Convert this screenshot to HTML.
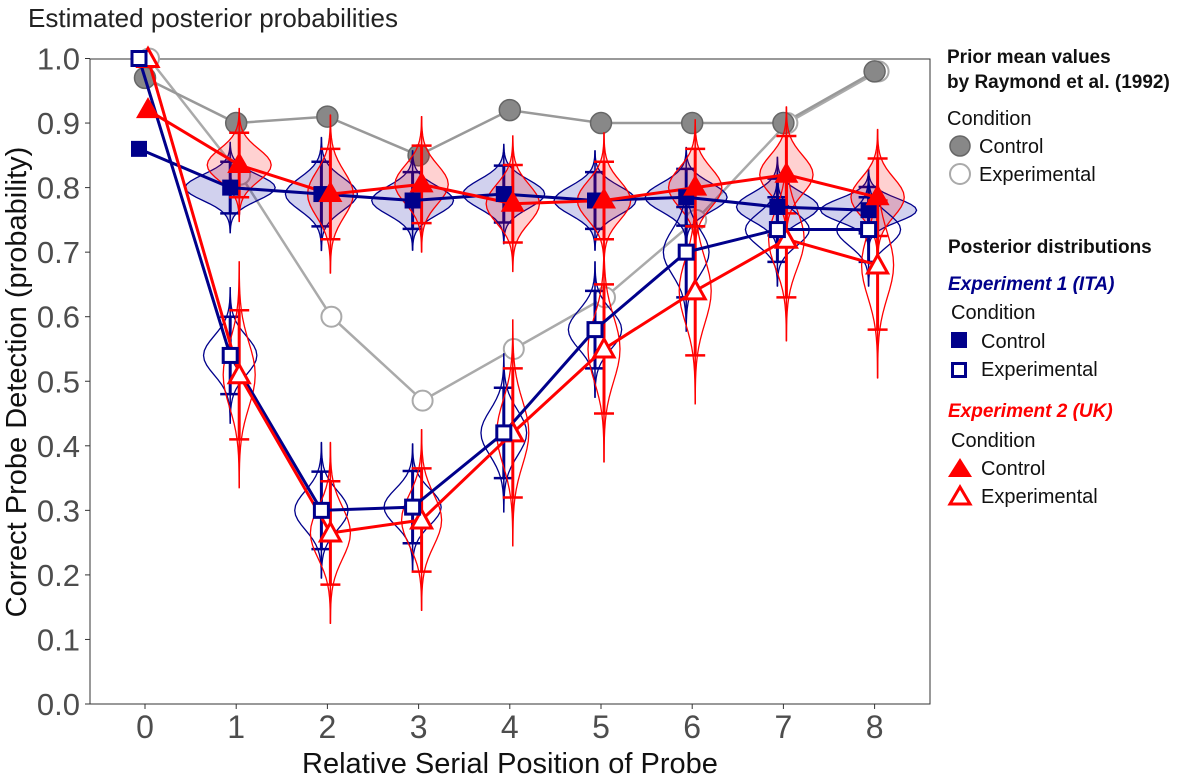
<!DOCTYPE html>
<html><head><meta charset="utf-8"><style>
body{margin:0;background:#fff;}
svg{display:block;font-family:"Liberation Sans",sans-serif;}
</style></head><body>
<svg id="c" width="1200" height="776" xmlns="http://www.w3.org/2000/svg">
<text x="28" y="27" font-size="26" fill="#222">Estimated posterior probabilities</text>
<rect x="90" y="59" width="840" height="645" fill="none" stroke="#333" stroke-width="1"/>
<g id="axes"></g>
<g id="gray"></g>
<g id="violins"></g>
<g id="series"></g>
<text transform="translate(26,382) rotate(-90)" text-anchor="middle" font-size="29" fill="#111">Correct Probe Detection (probability)</text>
<text x="510" y="773" text-anchor="middle" font-size="29" fill="#111">Relative Serial Position of Probe</text>
<g font-size="20" fill="#111">
<text x="947" y="63" font-weight="bold" font-size="19">Prior mean values</text>
<text x="947" y="88" font-weight="bold" font-size="19">by Raymond et al. (1992)</text>
<text x="947" y="125">Condition</text>
<circle cx="960" cy="146" r="10" fill="#888" stroke="#666" stroke-width="1.5"/>
<text x="979" y="153">Control</text>
<circle cx="960" cy="174" r="10" fill="#fff" stroke="#aaa" stroke-width="2"/>
<text x="979" y="181">Experimental</text>
<text x="948" y="253" font-weight="bold" font-size="19">Posterior distributions</text>
<text x="948" y="290" font-weight="bold" font-style="italic" font-size="19" fill="#00008b">Experiment 1 (ITA)</text>
<text x="951" y="319">Condition</text>
<rect x="951" y="332" width="16" height="16" fill="#00008b"/>
<text x="981" y="348">Control</text>
<rect x="952.5" y="363.5" width="13" height="13" fill="#fff" stroke="#00008b" stroke-width="3"/>
<text x="981" y="376">Experimental</text>
<text x="948" y="417" font-weight="bold" font-style="italic" font-size="19" fill="#ff0000">Experiment 2 (UK)</text>
<text x="951" y="447">Condition</text>
<polygon points="948,477 972,477 960,458" fill="#ff0000"/>
<text x="981" y="475">Control</text>
<polygon points="950,504 970,504 960,487" fill="#fff" stroke="#ff0000" stroke-width="3"/>
<text x="981" y="503">Experimental</text>
</g>
</svg>
<script>
const positions=[0,1,2,3,4,5,6,7,8];
const yTicks=[0,0.1,0.2,0.3,0.4,0.5,0.6,0.7,0.8,0.9,1.0];
const yTickLabels=["0.0","0.1","0.2","0.3","0.4","0.5","0.6","0.7","0.8","0.9","1.0"];
const priorControl=[0.97,0.90,0.91,0.85,0.92,0.90,0.90,0.90,0.98];
const priorExperimental=[1.0,0.82,0.60,0.47,0.55,0.63,0.75,0.90,0.98];
const exp1Control=[0.86,0.80,0.79,0.78,0.79,0.78,0.785,0.77,0.765];
const exp1Experimental=[1.0,0.54,0.30,0.305,0.42,0.58,0.70,0.735,0.735];
const exp2Control=[0.92,0.835,0.79,0.805,0.775,0.78,0.80,0.82,0.785];
const exp2Experimental=[1.0,0.51,0.265,0.285,0.42,0.55,0.64,0.72,0.68];
const exp1ControlSd=[0,0.02,0.025,0.022,0.022,0.022,0.022,0.022,0.018];
const exp1ExperimentalSd=[0,0.03,0.03,0.028,0.035,0.03,0.035,0.025,0.025];
const exp2ControlSd=[0,0.025,0.035,0.03,0.03,0.03,0.03,0.03,0.03];
const exp2ExperimentalSd=[0,0.05,0.04,0.04,0.05,0.05,0.05,0.045,0.05];

const NS="http://www.w3.org/2000/svg";
const X=i=>145+91.2*i;
const Y=v=>704-645.5*v;
function mk(tag,attrs,parent){const e=document.createElementNS(NS,tag);for(const k in attrs)e.setAttribute(k,attrs[k]);parent.appendChild(e);return e;}
const axes=document.getElementById('axes');
yTicks.forEach((t,i)=>{
  const l=mk('line',{x1:85,x2:90,y1:Y(t),y2:Y(t),stroke:'#333'},axes);
  
  
  const tx=mk('text',{x:80,y:Y(t)+11,'text-anchor':'end','font-size':31,fill:'#4d4d4d'},axes);
  tx.textContent=yTickLabels[i];
  
  
});
positions.forEach(p=>{
  const l=mk('line',{x1:X(p),x2:X(p),y1:704,y2:709,stroke:'#333'},axes);
  
  
  const tx=mk('text',{x:X(p),y:738,'text-anchor':'middle','font-size':32,fill:'#4d4d4d'},axes);
  tx.textContent=String(p);
  
  
});
const gray=document.getElementById('gray');
function polyline(vals,off,color,w,parent,name){
  const pts=vals.map((v,i)=>X(positions[i])+off+','+Y(v)).join(' ');
  const pl=mk('polyline',{points:pts,fill:'none',stroke:color,'stroke-width':w},parent);
  
  
}
polyline(priorExperimental,4,'#aaa',2.5,gray,'prior-experimental-line');
polyline(priorControl,0,'#999',2.5,gray,'prior-control-line');
priorExperimental.forEach((v,i)=>{
  const c=mk('circle',{cx:X(positions[i])+4,cy:Y(v),r:10,fill:'#fff',stroke:'#aaa','stroke-width':2},gray);
  
  
});
priorControl.forEach((v,i)=>{
  const c=mk('circle',{cx:X(positions[i]),cy:Y(v),r:10.5,fill:'#888',stroke:'#666','stroke-width':1.5},gray);
  
  
});
const vg=document.getElementById('violins');
function violin(vals,sds,off,color,fill,scale,name){
  vals.forEach((m,i)=>{
    if(i===0)return;
    const sd=sds[i];const cx=X(positions[i])+off;
    const hw=Math.min(48,scale/(sd*100));
    const right=[],left=[];
    for(let k=-3.5;k<=3.5001;k+=0.25){
      const w=hw*Math.exp(-k*k/2);
      right.push((cx+w)+','+Y(m+k*sd));
      left.unshift((cx-w)+','+Y(m+k*sd));
    }
    const p=mk('polygon',{points:right.concat(left).join(' '),fill:fill,stroke:color,'stroke-width':1.3},vg);
    
    
    const ln=mk('line',{x1:cx,x2:cx,y1:Y(m-3.5*sd),y2:Y(m+3.5*sd),stroke:color,'stroke-width':1.5},vg);
    
    
    const eb=mk('line',{x1:cx,x2:cx,y1:Y(m-2*sd),y2:Y(m+2*sd),stroke:color,'stroke-width':3},vg);
    
    
    [m-2*sd,m+2*sd].forEach(v=>{
      const cap=mk('line',{x1:cx-10,x2:cx+10,y1:Y(v),y2:Y(v),stroke:color,'stroke-width':2.5},vg);
      
      
    });
  });
}
violin(exp1Control,exp1ControlSd,-6,'#00008b','rgba(0,0,160,0.18)',90,'exp1-control');
violin(exp2Control,exp2ControlSd,3,'#ff0000','rgba(255,0,0,0.18)',80,'exp2-control');
violin(exp1Experimental,exp1ExperimentalSd,-6,'#00008b','none',80,'exp1-experimental');
violin(exp2Experimental,exp2ExperimentalSd,3,'#ff0000','none',80,'exp2-experimental');
const sg=document.getElementById('series');
polyline(exp1Control,-6,'#00008b',3,sg,'exp1-control-line');
polyline(exp2Control,3,'#ff0000',3,sg,'exp2-control-line');
polyline(exp1Experimental,-6,'#00008b',3,sg,'exp1-experimental-line');
polyline(exp2Experimental,3,'#ff0000',3,sg,'exp2-experimental-line');
exp1Control.forEach((v,i)=>{
  const cx=X(positions[i])-6;
  const r=mk('rect',{x:cx-8,y:Y(v)-8,width:16,height:16,fill:'#00008b'},sg);
  
  
});
exp2Control.forEach((v,i)=>{
  const cx=X(positions[i])+3,cy=Y(v);
  const t=mk('polygon',{points:`${cx-12},${cy+8} ${cx+12},${cy+8} ${cx},${cy-13}`,fill:'#ff0000'},sg);
  
  
});
exp2Experimental.forEach((v,i)=>{
  const cx=X(positions[i])+3,cy=Y(v);
  const t=mk('polygon',{points:`${cx-10},${cy+8} ${cx+10},${cy+8} ${cx},${cy-10}`,fill:'#fff',stroke:'#ff0000','stroke-width':3},sg);
  
  
});
exp1Experimental.forEach((v,i)=>{
  const cx=X(positions[i])-6;
  const r=mk('rect',{x:cx-7,y:Y(v)-7,width:14,height:14,fill:'#fff',stroke:'#00008b','stroke-width':3},sg);
  
  
});
</script>
</body></html>
